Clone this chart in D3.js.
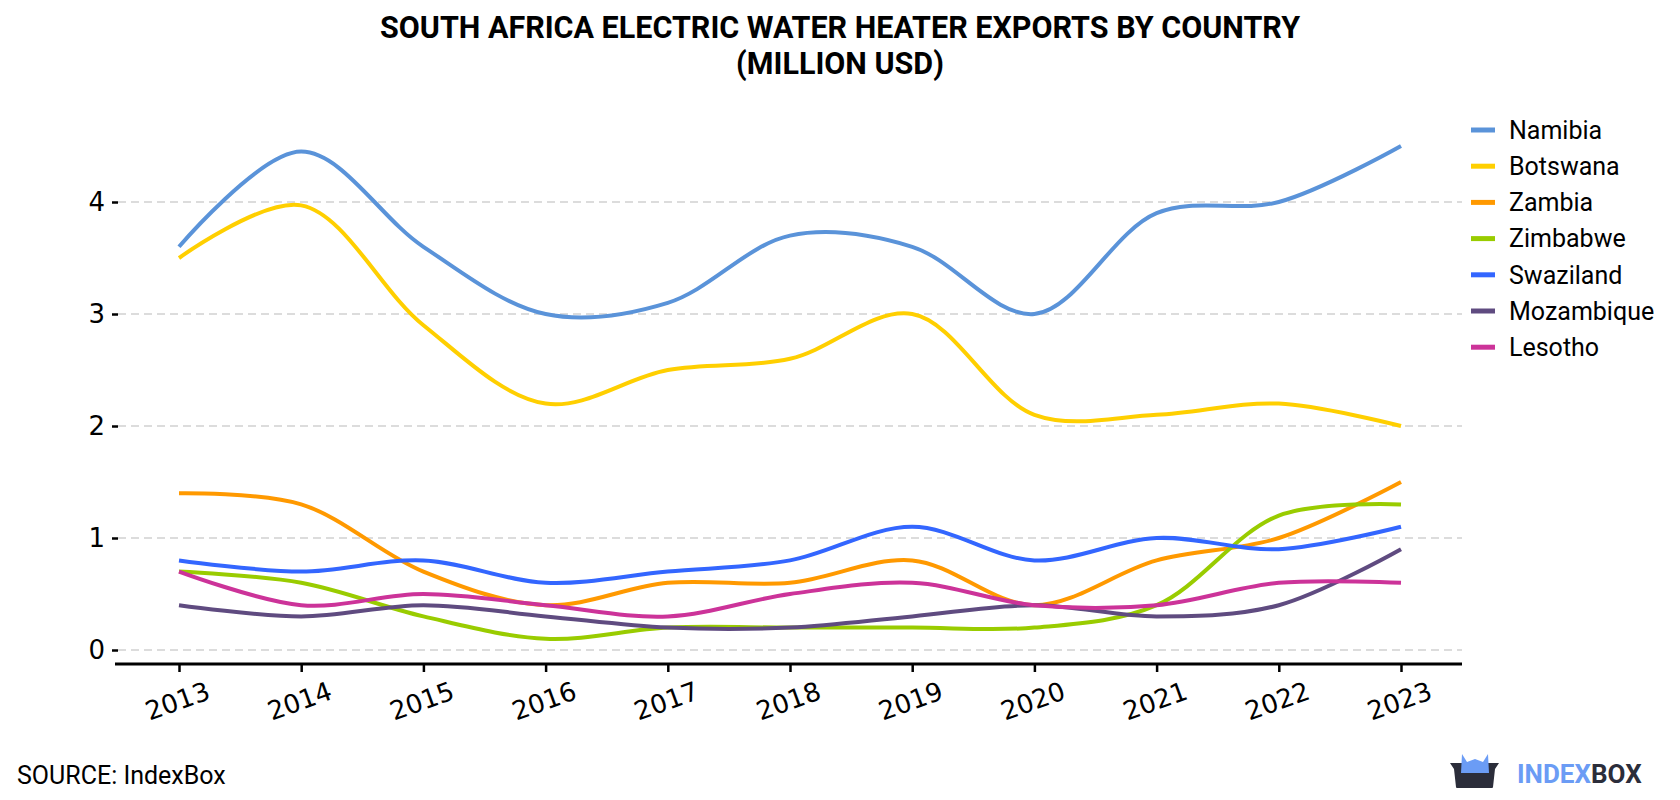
<!DOCTYPE html>
<html>
<head>
<meta charset="utf-8">
<style>
  body { margin: 0; background: #fff; }
  svg { display: block; }
</style>
</head>
<body>
<script src="https://d3js.org/d3.v7.min.js"></script>
<script>
// data (million USD)
var years = [2013, 2014, 2015, 2016, 2017, 2018, 2019, 2020, 2021, 2022, 2023];
var countries = ["Namibia", "Botswana", "Zambia", "Zimbabwe", "Swaziland", "Mozambique", "Lesotho"];
var colors = ["#5a93d9", "#ffcf00", "#ff9900", "#99cc00", "#3366ff", "#5f4b80", "#cc3399"];
var namibia    = [3.6, 4.45, 3.6, 3.0, 3.1, 3.7, 3.6, 3.0, 3.9, 4.0, 4.5];
var botswana   = [3.5, 3.97, 2.9, 2.2, 2.5, 2.6, 3.0, 2.1, 2.1, 2.2, 2.0];
var zambia     = [1.4, 1.3, 0.7, 0.4, 0.6, 0.6, 0.8, 0.4, 0.8, 1.0, 1.5];
var zimbabwe   = [0.7, 0.6, 0.3, 0.1, 0.2, 0.2, 0.2, 0.2, 0.4, 1.2, 1.3];
var swaziland  = [0.8, 0.7, 0.8, 0.6, 0.7, 0.8, 1.1, 0.8, 1.0, 0.9, 1.1];
var mozambique = [0.4, 0.3, 0.4, 0.3, 0.2, 0.2, 0.3, 0.4, 0.3, 0.4, 0.9];
var lesotho    = [0.7, 0.4, 0.5, 0.4, 0.3, 0.5, 0.6, 0.4, 0.4, 0.6, 0.6];
var yTicks = [0, 1, 2, 3, 4];

var series = [namibia, botswana, zambia, zimbabwe, swaziland, mozambique, lesotho];

var W = 1680, H = 800;
var svg = d3.select("body").append("svg")
    .attr("width", W)
    .attr("height", H);

var x = d3.scaleLinear().domain([2013, 2023]).range([179, 1401]);
var y = d3.scaleLinear().domain([0, 4]).range([650, 202]);

// title
var title = svg.append("text")
    .attr("text-anchor", "middle")
    .style("font-family", "Roboto, sans-serif")
    .style("font-weight", "bold")
    .style("font-size", "30.5px")
    .attr("fill", "#000");
title.append("tspan").attr("x", 840).attr("y", 38).text("SOUTH AFRICA ELECTRIC WATER HEATER EXPORTS BY COUNTRY");
title.append("tspan").attr("x", 840).attr("y", 74).text("(MILLION USD)");

// gridlines
svg.append("g").selectAll("line")
    .data(yTicks)
    .enter().append("line")
    .attr("x1", 118).attr("x2", 1462)
    .attr("y1", function(d) { return y(d); })
    .attr("y2", function(d) { return y(d); })
    .attr("stroke", "#dcdcdc")
    .attr("stroke-width", 2)
    .attr("stroke-dasharray", "8,5");

// y axis (ticks only)
var yAxis = svg.append("g")
    .attr("transform", "translate(118,0)")
    .call(d3.axisLeft(y).tickValues(yTicks).tickSize(6).tickPadding(7).tickFormat(d3.format("d")));
yAxis.select(".domain").remove();
yAxis.selectAll(".tick line").attr("stroke", "#000").attr("stroke-width", 2.5);
yAxis.selectAll("text")
    .style("font-family", "'DejaVu Sans', sans-serif")
    .style("font-size", "26px")
    .attr("fill", "#000");

// x axis
var xAxis = svg.append("g")
    .attr("transform", "translate(0,664)")
    .call(d3.axisBottom(x).tickValues(years).tickSize(8).tickFormat(d3.format("d")));
xAxis.select(".domain").remove();
xAxis.append("line")
    .attr("x1", 115).attr("x2", 1462)
    .attr("stroke", "#000").attr("stroke-width", 3);
xAxis.selectAll(".tick line").attr("stroke", "#000").attr("stroke-width", 2.5);
xAxis.selectAll(".tick text")
    .style("font-family", "'DejaVu Sans', sans-serif")
    .style("font-size", "26px")
    .attr("fill", "#000")
    .attr("text-anchor", "middle")
    .attr("y", 0)
    .attr("dy", "0.35em")
    .attr("transform", "translate(-2,37) rotate(-20)");

// lines
var line = d3.line()
    .x(function(d, i) { return x(years[i]); })
    .y(function(d) { return y(d); })
    .curve(d3.curveCatmullRom.alpha(0.5));

svg.append("g").selectAll("path")
    .data(series)
    .enter().append("path")
    .attr("d", line)
    .attr("fill", "none")
    .attr("stroke", function(d, i) { return colors[i]; })
    .attr("stroke-width", 4);

// legend
var legend = svg.append("g").selectAll("g")
    .data(countries)
    .enter().append("g")
    .attr("transform", function(d, i) { return "translate(1471," + (130 + i * 36.2) + ")"; });
legend.append("line")
    .attr("x1", 0).attr("x2", 24)
    .attr("stroke", function(d, i) { return colors[i]; })
    .attr("stroke-width", 5);
legend.append("text")
    .attr("x", 38)
    .attr("dy", "0.35em")
    .style("font-family", "Roboto, sans-serif")
    .style("font-size", "25px")
    .attr("fill", "#000")
    .text(function(d) { return d; });

// source
svg.append("text")
    .attr("x", 17).attr("y", 784)
    .style("font-family", "Roboto, sans-serif")
    .style("font-size", "25px")
    .attr("fill", "#000")
    .text("SOURCE: IndexBox");

// logo
var logo = svg.append("g").attr("transform", "translate(1450,754)");
logo.append("path")
    .attr("d", "M0,9 L49,9 L45,15 L43,33 Q43,34 42,34 L7,34 Q6,34 6,33 L4,15 Z")
    .attr("fill", "#2b2d3a");
logo.append("path")
    .attr("d", "M12,0 L17,8 L25,5 L33,8 L38,0 L39,19 L11,19 Z")
    .attr("fill", "#6b9cf5");
var lt = svg.append("text")
    .attr("x", 1517).attr("y", 783)
    .style("font-family", "Roboto, sans-serif")
    .style("font-weight", "bold")
    .style("font-size", "26px");
lt.append("tspan").attr("fill", "#6b9cf5").text("INDEX");
lt.append("tspan").attr("fill", "#2b2d3a").text("BOX");
</script>
</body>
</html>
